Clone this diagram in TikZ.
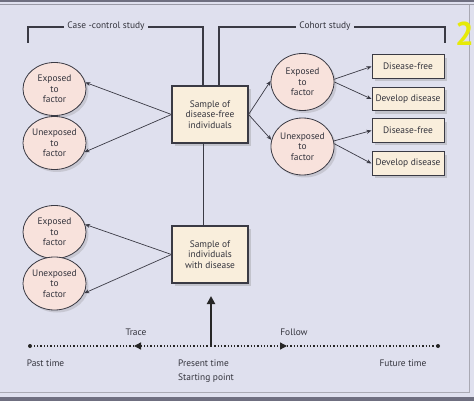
\documentclass[tikz,border=0pt]{standalone}
\usepackage{fontspec}
\setmainfont{PT Sans}
\usetikzlibrary{arrows.meta,shadows,shapes.geometric}
\definecolor{bg}{HTML}{DFE0EE}
\definecolor{boxfill}{HTML}{F9EEDC}
\definecolor{circfill}{HTML}{F8E2DC}
\definecolor{ink}{HTML}{3A3A44}
\definecolor{txt}{HTML}{33333C}
\definecolor{frame}{HTML}{6F6F80}
\tikzset{
  x=1pt, y=-1pt,
  every node/.style={text=txt, font=\fontsize{9.4}{10.6}\selectfont},
  sbox/.style={draw=ink, line width=1.1pt, fill=boxfill, minimum width=76pt, minimum height=57pt, align=center, inner sep=1pt,
    drop shadow={opacity=0.3, shadow xshift=3pt, shadow yshift=-3pt}},
  rbox/.style={draw=ink, line width=1pt, fill=boxfill, minimum width=72pt, minimum height=23.5pt, align=center, inner sep=1pt,
    drop shadow={opacity=0.3, shadow xshift=3pt, shadow yshift=-3pt}},
  fac/.style={ellipse, draw=ink, line width=0.8pt, fill=circfill, minimum width=63pt, minimum height=53pt, align=center, inner sep=0pt,
    drop shadow={opacity=0.25, shadow xshift=2.5pt, shadow yshift=-2.5pt}},
  conn/.style={draw=ink, line width=0.7pt, -{Stealth[length=5pt,width=4pt]}},
  brk/.style={draw=ink, line width=1.2pt},
  tl/.style={draw=black!85, line width=1.3pt, dotted},
  dotend/.style={circle, fill=black!85, inner sep=0pt, minimum size=4pt},
  lbl/.style={inner sep=1pt},
  head/.style={inner sep=3.5pt}
}
\begin{document}
\begin{tikzpicture}
\useasboundingbox (0,0) rectangle (474,401);
\begin{scope}
\clip (0,0) rectangle (474,401);
\fill[bg] (0,0) rectangle (474,401);
\fill[frame] (0,0) rectangle (474,2.5);
\draw[frame!70, line width=0.8pt] (0,4.8) -- (474,4.8);
\draw[frame!60, line width=0.8pt] (469.5,5) -- (469.5,392);
\draw[frame!60, line width=0.8pt] (0,392) -- (470,392);
\fill[frame] (0,397) rectangle (474,401);
\node[text=yellow!90!green, font=\fontsize{33}{33}\selectfont\bfseries, anchor=west, inner sep=0pt] (two) at (455,34) {2};
\end{scope}

% study labels
\node[head] (cc) at (106,26) {Case -control study};
\node[head] (co) at (325,26) {Cohort study};

% main boxes
\node[sbox] (s1) at (210,114.5) {Sample of\\disease-free\\individuals};
\node[sbox] (s2) at (210,254.5) {Sample of\\individuals\\with disease};

% left circles
\node[fac] (L1) at (54.5,89) {Exposed\\to\\factor};
\node[fac] (L2) at (54.5,143) {Unexposed\\to\\factor};
\node[fac] (L3) at (54.5,232) {Exposed\\to\\factor};
\node[fac] (L4) at (54.5,283.5) {Unexposed\\to\\factor};

% right circles
\node[fac, minimum height=57pt] (R1) at (302.5,82) {Exposed\\to\\factor};
\node[fac, minimum height=57pt] (R2) at (302.5,146.5) {Unexposed\\to\\factor};

% right boxes
\node[rbox] (D1) at (408,66.5) {Disease-free};
\node[rbox] (D2) at (408,99) {Develop disease};
\node[rbox] (D3) at (408,130.5) {Disease-free};
\node[rbox] (D4) at (408,163.5) {Develop disease};

% brackets
\coordinate (b1) at (28,43);
\coordinate (b2) at (28,27);
\coordinate (b3) at (203,27);
\coordinate (b4) at (203,86);
\coordinate (c1) at (219,86);
\coordinate (c2) at (219,27);
\coordinate (c3) at (445,27);
\coordinate (c4) at (445,43);
\draw[brk] (b1) -- (b2) -- (b2 -| cc.west);
\draw[brk] (b3 -| cc.east) -- (b3) -- (b4);
\draw[brk] (c1) -- (c2) -- (c2 -| co.west);
\draw[brk] (c3 -| co.east) -- (c3) -- (c4);
\coordinate (v1) at (203,143);
\coordinate (v2) at (203,226);
\draw[brk, line width=1pt] (v1) -- (v2);

% arrows
\draw[conn] (s1.west) -- (L1.12);
\draw[conn] (s1.west) -- (L2.-17);
\draw[conn] (s2.west) -- (L3.14);
\draw[conn] (s2.west) -- (L4.-18);
\draw[conn] (s1.east) -- (R1.178);
\draw[conn] (s1.east) -- (R2.168);
\draw[conn] (R1.5) -- (D1.west);
\draw[conn] (R1.0) -- (D2.west);
\draw[conn] (R2.10) -- (D3.west);
\draw[conn] (R2.5) -- (D4.west);

% timeline
\node[dotend] (past) at (30,346) {};
\node[dotend] (fut) at (438,346) {};
\coordinate (pres) at (211,346);
\coordinate (ta) at (134,346);
\coordinate (fa) at (287,346);
\coordinate (up) at (211,296);
\draw[tl, -{Triangle[length=7pt,width=7pt]}] (pres) -- (ta);
\draw[tl] (ta) -- (past);
\draw[tl, -{Triangle[length=7pt,width=7pt]}] (pres) -- (fa);
\draw[tl] (fa) -- (fut);
\draw[draw=black!85, line width=2.6pt, -{Triangle[length=8pt,width=8pt]}] (pres) -- (up);

\node[lbl] (trace) at (136,332) {Trace};
\node[lbl] (follow) at (294,332) {Follow};
\node[lbl] (pastl) at (45.5,363) {Past time};
\node[lbl, anchor=west] (presl) at (177,363) {Present time};
\node[lbl, anchor=west] (startl) at (177,378) {Starting point};
\node[lbl] (futl) at (403,363) {Future time};
\end{tikzpicture}
\end{document}
